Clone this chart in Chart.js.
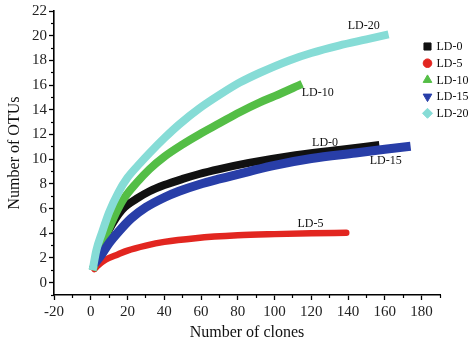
<!DOCTYPE html>
<html>
<head>
<meta charset="utf-8">
<script src="https://cdn.jsdelivr.net/npm/chart.js@4.4.0/dist/chart.umd.min.js"></script>
<style>
  html, body { margin: 0; padding: 0; background: #fff; }
  #wrap { width: 474px; height: 353px; position: relative; }
</style>
</head>
<body>
<div id="wrap"><canvas id="myChart"></canvas></div>
<script>
// rarefaction curves
var seriesNames = ['LD-0', 'LD-5', 'LD-10', 'LD-15', 'LD-20'];

var ld0Clones = [1, 3, 6, 10, 17, 25, 32, 40, 50, 59, 70, 86, 108, 135, 157];
var ld0Otus   = [1, 1.9, 3.0, 4.3, 5.9, 6.8, 7.4, 7.9, 8.4, 8.8, 9.2, 9.7, 10.25, 10.75, 11.15];

var ld5Clones = [2, 4, 8, 15, 20, 30, 40, 57, 80, 100, 120, 139];
var ld5Otus   = [1.1, 1.4, 1.85, 2.3, 2.6, 3.0, 3.3, 3.6, 3.83, 3.93, 4.0, 4.04];

var ld10Clones = [1, 4, 8, 12, 18, 25, 32, 40, 50, 59, 70, 81, 92, 100, 115];
var ld10Otus   = [1, 2.3, 3.7, 5.1, 6.8, 8.1, 9.2, 10.2, 11.2, 12.0, 12.9, 13.8, 14.6, 15.1, 16.1];

var ld15Clones = [2, 6, 10, 15, 22, 30, 40, 48, 59, 70, 86, 100, 120, 144, 160, 174];
var ld15Otus   = [1.5, 2.3, 3.2, 4.1, 5.2, 6.1, 6.9, 7.4, 7.95, 8.4, 9.0, 9.5, 10.05, 10.5, 10.8, 11.05];

var ld20Clones = [1, 3, 6, 10, 15, 20, 27, 32, 40, 48, 59, 70, 81, 92, 108, 120, 135, 150, 162];
var ld20Otus   = [1, 2.6, 4.0, 5.7, 7.3, 8.5, 9.7, 10.5, 11.7, 12.8, 14.1, 15.2, 16.2, 17.0, 18.0, 18.6, 19.2, 19.7, 20.1];

var xTicks = [-20, 0, 20, 40, 60, 80, 100, 120, 140, 160, 180];
var xMinorTicks = [-10, 10, 30, 50, 70, 90, 110, 130, 150, 170, 190];
var yTicks = [0, 2, 4, 6, 8, 10, 12, 14, 16, 18, 20, 22];
var yMinorTicks = [-1, 1, 3, 5, 7, 9, 11, 13, 15, 17, 19, 21];

function pts(xs, ys) {
    return xs.map(function (x, i) { return { x: x, y: ys[i] }; });
}

var serif = '"Liberation Serif", "Times New Roman", serif';

// where the curve names sit (data coordinates)
var curveLabels = [
    { text: 'LD-0', x: 127.5, y: 11.3 },
    { text: 'LD-5', x: 119.5, y: 4.8 },
    { text: 'LD-10', x: 123.5, y: 15.4 },
    { text: 'LD-15', x: 160.5, y: 9.9 },
    { text: 'LD-20', x: 148.5, y: 20.8 }
];

var extras = {
    id: 'extras',
    afterDatasetsDraw: function (chart) {
        var ctx = chart.ctx;
        var sx = chart.scales.x, sy = chart.scales.y;
        ctx.save();
        ctx.fillStyle = '#111';
        ctx.font = '12px ' + serif;
        ctx.textAlign = 'center';
        ctx.textBaseline = 'middle';
        curveLabels.forEach(function (l) {
            ctx.fillText(l.text, sx.getPixelForValue(l.x), sy.getPixelForValue(l.y));
        });

        // legend box
        ctx.textAlign = 'left';
        chart.data.datasets.forEach(function (ds, i) {
            var y = 46.5 + i * 16.7;
            ctx.fillStyle = ds.borderColor;
            ctx.strokeStyle = ds.borderColor;
            Chart.helpers.drawPoint(ctx, {
                pointStyle: ds.pointStyle,
                radius: ds.pointStyle === 'circle' ? 4.3 : 5,
                rotation: ds.pointRotation || 0,
                borderWidth: 1
            }, 427.5, y);
            ctx.fillStyle = '#111';
            ctx.fillText(ds.label, 436.5, y + 0.5);
        });
        ctx.restore();
    }
};

var ctx = document.getElementById('myChart');
var myChart = new Chart(ctx, {
    type: 'line',
    data: {
        datasets: [{
            label: seriesNames[0],
            data: pts(ld0Clones, ld0Otus),
            borderColor: '#111111',
            borderWidth: 8,
            pointStyle: 'rect',
            order: 5
        }, {
            label: seriesNames[1],
            data: pts(ld5Clones, ld5Otus),
            borderColor: 'rgb(226, 38, 32)',
            borderWidth: 6.5,
            pointStyle: 'circle',
            borderCapStyle: 'round',
            order: 4
        }, {
            label: seriesNames[2],
            data: pts(ld10Clones, ld10Otus),
            borderColor: 'rgb(84, 190, 70)',
            borderWidth: 8,
            pointStyle: 'triangle',
            order: 3
        }, {
            label: seriesNames[3],
            data: pts(ld15Clones, ld15Otus),
            borderColor: 'rgb(40, 62, 168)',
            borderWidth: 9,
            pointStyle: 'triangle',
            pointRotation: 180,
            order: 2
        }, {
            label: seriesNames[4],
            data: pts(ld20Clones, ld20Otus),
            borderColor: 'rgb(134, 220, 214)',
            borderWidth: 8,
            pointStyle: 'rectRot',
            order: 1
        }]
    },
    options: {
        responsive: true,
        maintainAspectRatio: false,
        animation: false,
        devicePixelRatio: 1,
        elements: {
            point: { radius: 0, hoverRadius: 0 },
            line: { cubicInterpolationMode: 'monotone', fill: false }
        },
        layout: { padding: { left: 0, right: 34, top: 8, bottom: 0 } },
        plugins: {
            legend: { display: false },
            tooltip: { enabled: false }
        },
        scales: {
            x: {
                type: 'linear',
                position: 'bottom',
                weight: 1,
                min: -20,
                max: 190,
                afterBuildTicks: function (axis) {
                    axis.ticks = xTicks.map(function (v) { return { value: v }; });
                },
                afterFit: function (axis) { axis.height = 58; },
                grid: { drawOnChartArea: false, tickLength: 5, tickWidth: 1.3, tickColor: '#000' },
                border: { color: '#000', width: 1.6 },
                ticks: { color: '#222', font: { family: serif, size: 15 }, padding: 3, maxRotation: 0, autoSkip: false },
                title: {
                    display: true,
                    text: 'Number of clones',
                    color: '#111',
                    font: { family: serif, size: 16 },
                    padding: { top: 0, bottom: 11 }
                }
            },
            xMinor: {
                type: 'linear',
                position: 'bottom',
                weight: 0,
                min: -20,
                max: 190,
                afterBuildTicks: function (axis) {
                    axis.ticks = xMinorTicks.map(function (v) { return { value: v }; });
                },
                afterFit: function (axis) { axis.height = 0; },
                grid: { drawOnChartArea: false, tickLength: 3, tickWidth: 1.2, tickColor: '#000' },
                border: { display: false },
                ticks: { display: false }
            },
            y: {
                type: 'linear',
                position: 'left',
                weight: 1,
                min: -1,
                max: 22,
                afterBuildTicks: function (axis) {
                    axis.ticks = yTicks.map(function (v) { return { value: v }; });
                },
                afterFit: function (axis) { axis.width = 54; },
                grid: { drawOnChartArea: false, tickLength: 5, tickWidth: 1.3, tickColor: '#000' },
                border: { color: '#000', width: 1.6 },
                ticks: { color: '#222', font: { family: serif, size: 15 }, padding: 2 },
                title: {
                    display: true,
                    text: 'Number of OTUs',
                    color: '#111',
                    font: { family: serif, size: 16 },
                    padding: { top: 5, bottom: 0 }
                }
            },
            yMinor: {
                type: 'linear',
                position: 'left',
                weight: 0,
                min: -1,
                max: 22,
                afterBuildTicks: function (axis) {
                    axis.ticks = yMinorTicks.map(function (v) { return { value: v }; });
                },
                afterFit: function (axis) { axis.width = 0; },
                grid: { drawOnChartArea: false, tickLength: 3, tickWidth: 1.2, tickColor: '#000' },
                border: { display: false },
                ticks: { display: false }
            }
        }
    },
    plugins: [extras]
});
</script>
</body>
</html>
